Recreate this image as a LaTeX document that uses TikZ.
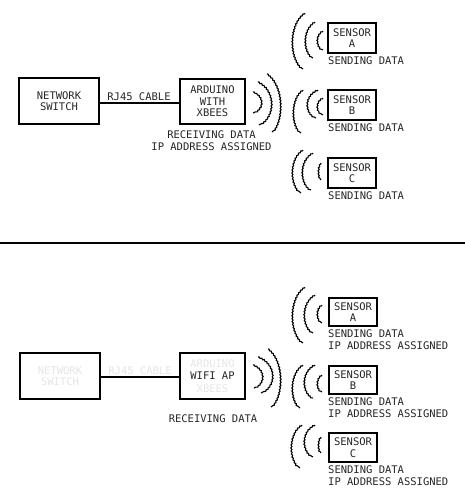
\documentclass[tikz,border=0pt]{standalone}
\usepackage{fontspec}
\setmonofont{DejaVu Sans Mono}
\usetikzlibrary{decorations.pathmorphing}
\tikzset{
  txt/.style={font=\ttfamily\fontsize{10.5}{11.5}\selectfont, inner sep=0pt, align=center, text=black!85},
  box/.style={draw, line width=1.6pt, inner sep=0pt, font=\ttfamily\fontsize{10.5}{11.5}\selectfont, align=center, text=black!85},
  faded/.style={txt, text=black!10},
  wire/.style={line width=1.6pt},
  wave/.style={line width=1.1pt, decorate, decoration={snake, segment length=3pt, amplitude=0.5pt}},
  divider/.style={line width=2.5pt}
}
\newcommand\mywave[5]{%
  \pgfmathsetmacro\wxc{(4*#5-(#1+#3)/2)/3}%
  \pgfmathsetmacro\wya{#2+0.2*(#4-#2)}%
  \pgfmathsetmacro\wyb{#4-0.2*(#4-#2)}%
  \draw[wave] (#1,#2) .. controls (\wxc,\wya) and (\wxc,\wyb) .. (#3,#4);}
\begin{document}
\begin{tikzpicture}[x=1pt,y=-1pt]
\useasboundingbox (0,0) rectangle (465,500);

% ---------- top panel ----------
\node[box, minimum width=80pt, minimum height=46pt] (sw1) at (59,101) {NETWORK\\SWITCH};
\node[box, minimum width=65pt, minimum height=45pt] (ard1) at (212.5,101.5) {ARDUINO\\WITH\\XBEES};
\draw[wire] (sw1.east |- 0,103) coordinate (c1a) -- (ard1.west |- 0,103) coordinate (c1b);
\node[txt] (rj1) at (139,97) {RJ45 CABLE};
\node[txt] (rec1) at (211.5,140.5) {RECEIVING DATA\\IP ADDRESS ASSIGNED};

\mywave{253}{92}{253}{113}{261}
\mywave{258}{82}{259}{125}{271}
\mywave{267}{74}{272}{132}{280}

\node[box, minimum width=48pt, minimum height=30pt] (sa1) at (352,38) {SENSOR\\A};
\node[box, minimum width=48pt, minimum height=30pt] (sb1) at (352,105) {SENSOR\\B};
\node[box, minimum width=48pt, minimum height=30pt] (sc1) at (352,173) {SENSOR\\C};
\node[txt, anchor=west] (la1) at (328,61) {SENDING DATA};
\node[txt, anchor=west] (lb1) at (328,128) {SENDING DATA};
\node[txt, anchor=west] (lc1) at (328,196) {SENDING DATA};

\mywave{323}{31}{323}{50}{318}
\mywave{315}{22}{313}{58}{306}
\mywave{305}{13}{303}{69}{293}

\mywave{323}{98}{323}{115}{318}
\mywave{318}{90}{316}{118}{308}
\mywave{303}{90}{301}{133}{294}

\mywave{321}{163}{321}{180}{319}
\mywave{313}{153}{311}{190}{303}
\mywave{303}{150}{301}{193}{293}

% ---------- divider ----------
\coordinate (dl) at (0,243);
\coordinate (dr) at (465,243);
\draw[divider] (dl) -- (dr);

% ---------- bottom panel ----------
\node[box, minimum width=80pt, minimum height=46pt] (sw2) at (60,376) {};
\node[faded] (swt2) at (60,376) {NETWORK\\SWITCH};
\node[box, minimum width=65pt, minimum height=46pt] (ap2) at (212.5,376) {};
\node[faded] (apf2) at (212.5,376) {ARDUINO\\[1pt]\phantom{WITH}\\[1pt]XBEES};
\node[txt] (apt2) at (212.5,375.5) {WIFI AP};
\node[faded] (rj2) at (140,371) {RJ45 CABLE};
\draw[wire] (sw2.east |- 0,377) coordinate (c2a) -- (ap2.west |- 0,377) coordinate (c2b);
\node[txt] (rec2) at (213,419) {RECEIVING DATA};

\mywave{253}{365}{254}{388}{262}
\mywave{258}{357}{261}{393}{272}
\mywave{268}{349}{271}{407}{280}

\node[box, minimum width=48pt, minimum height=28pt] (sa2) at (353,312) {SENSOR\\A};
\node[box, minimum width=48pt, minimum height=28pt] (sb2) at (353,380) {SENSOR\\B};
\node[box, minimum width=48pt, minimum height=29pt] (sc2) at (353,447.5) {SENSOR\\C};
\node[txt, anchor=north west, align=left] (la2) at (328,330) {SENDING DATA\\IP ADDRESS ASSIGNED};
\node[txt, anchor=north west, align=left] (lb2) at (328,398) {SENDING DATA\\IP ADDRESS ASSIGNED};
\node[txt, anchor=north west, align=left] (lc2) at (328,466) {SENDING DATA\\IP ADDRESS ASSIGNED};

\mywave{305}{287}{303}{343}{293}
\mywave{315}{295}{313}{333}{305}
\mywave{322}{305}{322}{323}{318}

\mywave{303}{365}{300}{408}{293}
\mywave{315}{365}{313}{398}{305}
\mywave{322}{375}{322}{392}{318}

\mywave{302}{425}{300}{468}{292}
\mywave{315}{425}{313}{457}{305}
\mywave{321}{437}{321}{453}{319}
\end{tikzpicture}
\end{document}
